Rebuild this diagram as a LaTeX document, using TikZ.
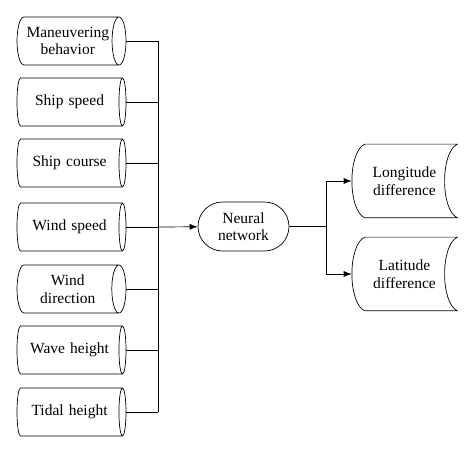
\documentclass[tikz,border=0pt]{standalone}
\usepackage{fontspec}
\setmainfont{Liberation Serif}
\usetikzlibrary{shapes.geometric,shapes.misc,arrows.meta}

\tikzset{
	>={Latex[length=8pt,width=6pt]},
	every node/.style={font=\fontsize{15.5}{17.5}\selectfont, align=center},
	drum/.style={shape=cylinder, draw=black, aspect=0.5, minimum width=48pt, minimum height=109pt, inner sep=0pt, text width=84pt, anchor=shape center},
	net/.style={shape=rounded rectangle, draw=black, minimum width=93pt, minimum height=49pt, inner sep=1pt},
	store/.style={shape=rectangle, minimum width=105pt, minimum height=73pt}
}

\begin{document}
\begin{tikzpicture}[x=1pt, y=-1pt, line width=0.7pt]
			\useasboundingbox (0,0) rectangle (474,454);
			\node[drum] (man) at (71.5,41) {Maneuvering\\behavior};
			\node[drum] (spd) at (71.5,102) {Ship speed};
			\node[drum] (crs) at (71.5,163) {Ship course};
			\node[drum] (wsp) at (71.5,227) {Wind speed};
			\node[drum] (wdr) at (71.5,289) {Wind\\direction};
			\node[drum] (wav) at (71.5,350) {Wave height};
			\node[drum] (tid) at (71.5,412) {Tidal height};
			
			\coordinate (bus) at (158,227);
			\node[net] (nn) at (243.5,226.5) {Neural\\network};
			\coordinate (split) at (326,226.5);
			
			\node[store] (lon) at (404.5,181) {Longitude\\difference};
			\node[store] (lat) at (404.5,274) {Latitude\\difference};
			
			% stored data outlines
			\foreach \s in {lon,lat} {
				\draw ([xshift=13pt]\s.north west) .. controls ([xshift=-4pt,yshift=-8pt]\s.north west) and ([xshift=-4pt,yshift=8pt]\s.south west) .. ([xshift=13pt]\s.south west)
					-- (\s.south east) .. controls ([xshift=-17pt,yshift=8pt]\s.south east) and ([xshift=-17pt,yshift=-8pt]\s.north east) .. (\s.north east)
					-- cycle;
			}
			
			\foreach \n in {man,spd,crs,wsp,wdr,wav,tid}
				\draw (\n.east) -- (\n.east -| bus);
			\draw (man.east -| bus) -- (tid.east -| bus);
			\draw[->] (bus) -- (nn);
			
			\draw (nn) -- (split);
			\draw (split |- lon.west) -- (split |- lat.west);
			\draw[->] (split |- lon.west) -- (lon.west);
			\draw[->] (split |- lat.west) -- (lat.west);
		\end{tikzpicture}
\end{document}
